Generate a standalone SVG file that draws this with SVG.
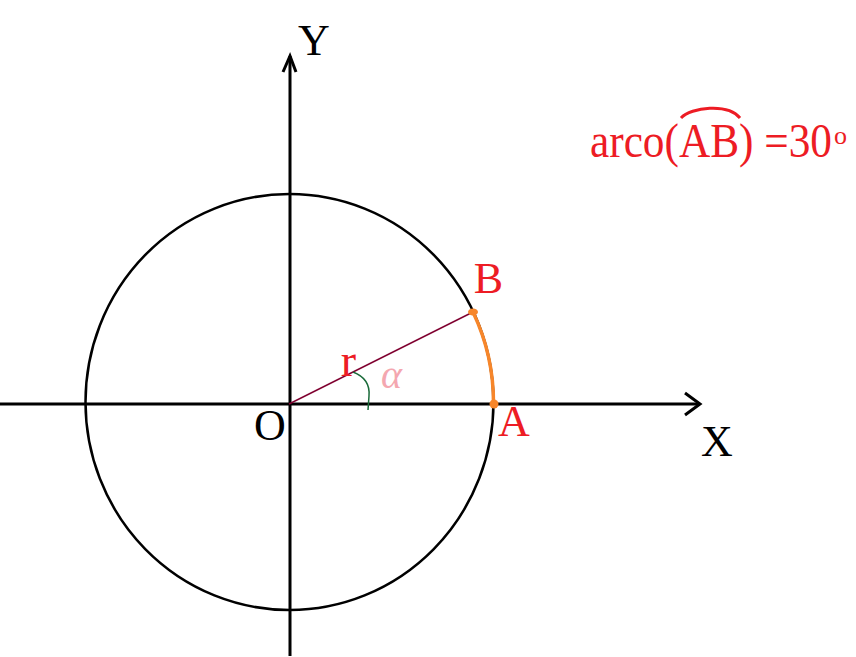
<svg xmlns="http://www.w3.org/2000/svg" width="856" height="657" viewBox="0 0 856 657">
<style>
.ax{stroke:#000;stroke-width:3;fill:none}
.lbl{font-family:"Liberation Serif","Times New Roman",serif;font-size:44px;fill:#000;text-anchor:middle}
.red{fill:#ed1c24}
</style>
<rect width="856" height="657" fill="#fff"/>
<g id="circle">
<ellipse cx="289.5" cy="402" rx="204" ry="208" fill="none" stroke="#000" stroke-width="2.5"/>
</g>
<g id="connectors">
<line class="ax" x1="0" y1="404" x2="700" y2="404"/>
<polyline class="ax" points="685,393 700,404 685,415"/>
<line class="ax" x1="290" y1="656" x2="290" y2="56"/>
<polyline class="ax" points="283,72 290,56 296,72"/>
<line x1="289" y1="404" x2="473" y2="312" stroke="#7f0030" stroke-width="1.5"/>
<path d="M473,312 A204,208 0 0 1 493.5,404" fill="none" stroke="#f7862a" stroke-width="3.5"/>
<path d="M353,372 C366,377 370,385 369,396 L368,410" fill="none" stroke="#1a6b3a" stroke-width="1.5"/>
</g>
<g id="pointB"><ellipse cx="473" cy="312" rx="5" ry="3.5" fill="#f7862a"/></g>
<g id="pointA"><circle cx="494" cy="404" r="4.5" fill="#f7862a"/></g>
<g id="labels">
<text class="lbl" x="314" y="55">Y</text>
<text class="lbl" x="717" y="456">X</text>
<text class="lbl" x="270" y="440">O</text>
<text class="lbl red" x="488.5" y="293">B</text>
<text class="lbl red" x="514" y="436">A</text>
<text class="lbl red" x="348.5" y="376" style="font-size:46px">r</text>
<text class="lbl" x="391.5" y="388" style="font-size:40px;fill:#f4a7b0;font-style:italic">α</text>
</g>
<g id="formula">
<text x="590" y="157" style="font-family:'Liberation Serif','Times New Roman',serif;font-size:49px" class="red"><tspan textLength="242" lengthAdjust="spacingAndGlyphs">arco(AB) =30</tspan><tspan dx="2" dy="-13" style="font-size:26px">o</tspan></text>
<path d="M681,118 C691,107 728,103 740,118" fill="none" stroke="#ed1c24" stroke-width="3"/>
</g>
</svg>
